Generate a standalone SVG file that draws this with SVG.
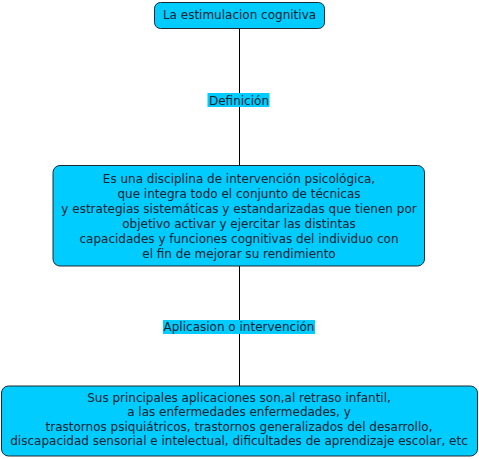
<svg xmlns="http://www.w3.org/2000/svg" width="479" height="459" viewBox="0 0 479 459">
<style>
.node{fill:#00ccff;stroke:#1a2a33;stroke-width:1}
.t{font-family:"DejaVu Sans",Verdana,sans-serif;font-size:12px;fill:#132430;text-anchor:middle}
.lbl{fill:#00ccff}
.edge{stroke:#000;stroke-width:1;fill:none}
</style>
<rect width="479" height="459" fill="#fff"/>
<g id="connectors">
<line class="edge" x1="239.5" y1="28" x2="239.5" y2="165"/>
<line class="edge" x1="239.5" y1="266" x2="239.5" y2="386"/>
<g id="label-definicion">
<rect class="lbl" x="207.5" y="93" width="62" height="14"/>
<text class="t" x="239" y="105">Definición</text>
</g>
<g id="label-aplicacion">
<rect class="lbl" x="163" y="320" width="152" height="14"/>
<text class="t" x="239" y="331">Aplicasion o intervención</text>
</g>
</g>
<g id="node-top">
<rect class="node" x="154.5" y="2.5" width="170" height="26" rx="6"/>
<text class="t" x="239.5" y="19">La estimulacion cognitiva</text>
</g>
<g id="node-definition">
<rect class="node" x="53" y="165.5" width="371.5" height="100.5" rx="7"/>
<text class="t" x="239" y="183">Es una disciplina de intervención psicológica,</text>
<text class="t" x="239" y="198">que integra todo el conjunto de técnicas</text>
<text class="t" x="239" y="213">y estrategias sistemáticas y estandarizadas que tienen por</text>
<text class="t" x="239" y="228">objetivo activar y ejercitar las distintas</text>
<text class="t" x="239" y="243"> capacidades y funciones cognitivas del individuo con</text>
<text class="t" x="239" y="258">el fin de mejorar su rendimiento</text>
</g>
<g id="node-applications">
<rect class="node" x="1.5" y="386" width="476" height="70" rx="7"/>
<text class="t" x="239" y="402">Sus principales aplicaciones son,al retraso infantil,</text>
<text class="t" x="239" y="416">a las enfermedades enfermedades, y</text>
<text class="t" x="239" y="431">trastornos psiquiátricos, trastornos generalizados del desarrollo,</text>
<text class="t" x="239" y="445">discapacidad sensorial e intelectual, dificultades de aprendizaje escolar, etc</text>
</g>
</svg>
